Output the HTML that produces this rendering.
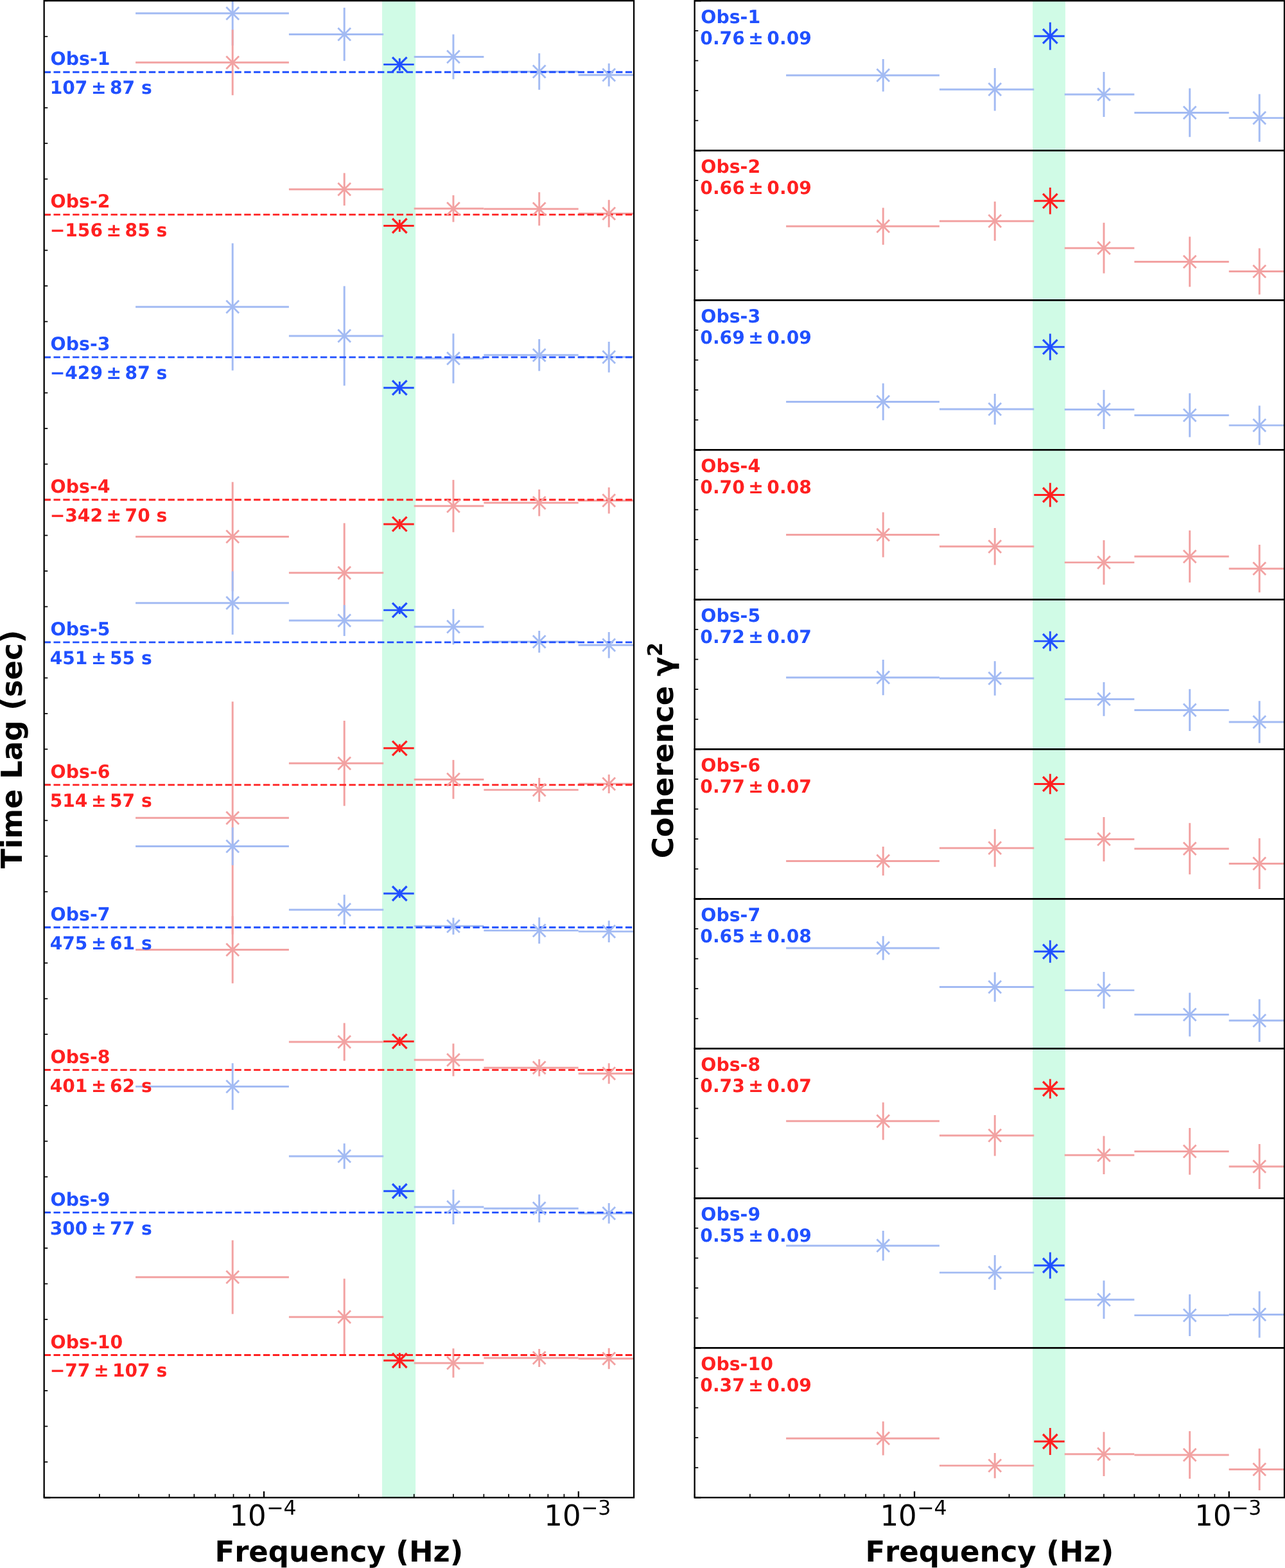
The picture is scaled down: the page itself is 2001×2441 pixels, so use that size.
<!DOCTYPE html>
<html lang="en"><head><meta charset="utf-8"><title>Time lag and coherence versus frequency</title>
<style>html,body{margin:0;padding:0;background:#fff}svg{display:block}</style></head>
<body>
<svg width="2001" height="2441" viewBox="0 0 2001 2441" font-family="'DejaVu Sans','Liberation Sans',sans-serif" style="font-kerning:none;font-variant-ligatures:none;text-rendering:geometricPrecision">
<rect width="2001" height="2441" fill="#fff"/>
<defs><clipPath id="cl"><rect x="68.65" y="1.2" width="918.45" height="2330.2"/></clipPath>
<clipPath id="cr0"><rect x="1081.65" y="1.25" width="918.4" height="233.01"/></clipPath>
<clipPath id="cr1"><rect x="1081.65" y="234.26" width="918.4" height="233.01"/></clipPath>
<clipPath id="cr2"><rect x="1081.65" y="467.27" width="918.4" height="233.01"/></clipPath>
<clipPath id="cr3"><rect x="1081.65" y="700.28" width="918.4" height="233.01"/></clipPath>
<clipPath id="cr4"><rect x="1081.65" y="933.29" width="918.4" height="233.01"/></clipPath>
<clipPath id="cr5"><rect x="1081.65" y="1166.3" width="918.4" height="233.01"/></clipPath>
<clipPath id="cr6"><rect x="1081.65" y="1399.31" width="918.4" height="233.01"/></clipPath>
<clipPath id="cr7"><rect x="1081.65" y="1632.32" width="918.4" height="233.01"/></clipPath>
<clipPath id="cr8"><rect x="1081.65" y="1865.33" width="918.4" height="233.01"/></clipPath>
<clipPath id="cr9"><rect x="1081.65" y="2098.34" width="918.4" height="233.01"/></clipPath>
</defs>
<g id="lag-panel">
<rect x="595.05" y="1.2" width="52.05" height="2330.2" fill="#d0fbe6"/>
<line x1="68.65" y1="1.3" x2="74.25" y2="1.3" stroke="#000" stroke-width="1.7"/>
<line x1="68.65" y1="56.78" x2="74.25" y2="56.78" stroke="#000" stroke-width="1.7"/>
<line x1="68.65" y1="112.26" x2="78.45" y2="112.26" stroke="#000" stroke-width="2.3"/>
<line x1="68.65" y1="167.74" x2="74.25" y2="167.74" stroke="#000" stroke-width="1.7"/>
<line x1="68.65" y1="223.21" x2="74.25" y2="223.21" stroke="#000" stroke-width="1.7"/>
<line x1="68.65" y1="278.69" x2="74.25" y2="278.69" stroke="#000" stroke-width="1.7"/>
<line x1="68.65" y1="334.17" x2="78.45" y2="334.17" stroke="#000" stroke-width="2.3"/>
<line x1="68.65" y1="389.65" x2="74.25" y2="389.65" stroke="#000" stroke-width="1.7"/>
<line x1="68.65" y1="445.13" x2="74.25" y2="445.13" stroke="#000" stroke-width="1.7"/>
<line x1="68.65" y1="500.61" x2="74.25" y2="500.61" stroke="#000" stroke-width="1.7"/>
<line x1="68.65" y1="556.09" x2="78.45" y2="556.09" stroke="#000" stroke-width="2.3"/>
<line x1="68.65" y1="611.56" x2="74.25" y2="611.56" stroke="#000" stroke-width="1.7"/>
<line x1="68.65" y1="667.04" x2="74.25" y2="667.04" stroke="#000" stroke-width="1.7"/>
<line x1="68.65" y1="722.52" x2="74.25" y2="722.52" stroke="#000" stroke-width="1.7"/>
<line x1="68.65" y1="778" x2="78.45" y2="778" stroke="#000" stroke-width="2.3"/>
<line x1="68.65" y1="833.48" x2="74.25" y2="833.48" stroke="#000" stroke-width="1.7"/>
<line x1="68.65" y1="888.96" x2="74.25" y2="888.96" stroke="#000" stroke-width="1.7"/>
<line x1="68.65" y1="944.44" x2="74.25" y2="944.44" stroke="#000" stroke-width="1.7"/>
<line x1="68.65" y1="999.91" x2="78.45" y2="999.91" stroke="#000" stroke-width="2.3"/>
<line x1="68.65" y1="1055.39" x2="74.25" y2="1055.39" stroke="#000" stroke-width="1.7"/>
<line x1="68.65" y1="1110.87" x2="74.25" y2="1110.87" stroke="#000" stroke-width="1.7"/>
<line x1="68.65" y1="1166.35" x2="74.25" y2="1166.35" stroke="#000" stroke-width="1.7"/>
<line x1="68.65" y1="1221.83" x2="78.45" y2="1221.83" stroke="#000" stroke-width="2.3"/>
<line x1="68.65" y1="1277.31" x2="74.25" y2="1277.31" stroke="#000" stroke-width="1.7"/>
<line x1="68.65" y1="1332.79" x2="74.25" y2="1332.79" stroke="#000" stroke-width="1.7"/>
<line x1="68.65" y1="1388.26" x2="74.25" y2="1388.26" stroke="#000" stroke-width="1.7"/>
<line x1="68.65" y1="1443.74" x2="78.45" y2="1443.74" stroke="#000" stroke-width="2.3"/>
<line x1="68.65" y1="1499.22" x2="74.25" y2="1499.22" stroke="#000" stroke-width="1.7"/>
<line x1="68.65" y1="1554.7" x2="74.25" y2="1554.7" stroke="#000" stroke-width="1.7"/>
<line x1="68.65" y1="1610.18" x2="74.25" y2="1610.18" stroke="#000" stroke-width="1.7"/>
<line x1="68.65" y1="1665.66" x2="78.45" y2="1665.66" stroke="#000" stroke-width="2.3"/>
<line x1="68.65" y1="1721.14" x2="74.25" y2="1721.14" stroke="#000" stroke-width="1.7"/>
<line x1="68.65" y1="1776.61" x2="74.25" y2="1776.61" stroke="#000" stroke-width="1.7"/>
<line x1="68.65" y1="1832.09" x2="74.25" y2="1832.09" stroke="#000" stroke-width="1.7"/>
<line x1="68.65" y1="1887.57" x2="78.45" y2="1887.57" stroke="#000" stroke-width="2.3"/>
<line x1="68.65" y1="1943.05" x2="74.25" y2="1943.05" stroke="#000" stroke-width="1.7"/>
<line x1="68.65" y1="1998.53" x2="74.25" y2="1998.53" stroke="#000" stroke-width="1.7"/>
<line x1="68.65" y1="2054.01" x2="74.25" y2="2054.01" stroke="#000" stroke-width="1.7"/>
<line x1="68.65" y1="2109.49" x2="78.45" y2="2109.49" stroke="#000" stroke-width="2.3"/>
<line x1="68.65" y1="2164.96" x2="74.25" y2="2164.96" stroke="#000" stroke-width="1.7"/>
<line x1="68.65" y1="2220.44" x2="74.25" y2="2220.44" stroke="#000" stroke-width="1.7"/>
<line x1="68.65" y1="2275.92" x2="74.25" y2="2275.92" stroke="#000" stroke-width="1.7"/>
<line x1="68.65" y1="2331.4" x2="78.45" y2="2331.4" stroke="#000" stroke-width="2.3"/>
<line x1="68.65" y1="2331.4" x2="68.65" y2="2325.8" stroke="#000" stroke-width="1.7"/>
<line x1="154.9" y1="2331.4" x2="154.9" y2="2325.8" stroke="#000" stroke-width="1.7"/>
<line x1="216.1" y1="2331.4" x2="216.1" y2="2325.8" stroke="#000" stroke-width="1.7"/>
<line x1="263.57" y1="2331.4" x2="263.57" y2="2325.8" stroke="#000" stroke-width="1.7"/>
<line x1="302.36" y1="2331.4" x2="302.36" y2="2325.8" stroke="#000" stroke-width="1.7"/>
<line x1="335.15" y1="2331.4" x2="335.15" y2="2325.8" stroke="#000" stroke-width="1.7"/>
<line x1="363.55" y1="2331.4" x2="363.55" y2="2325.8" stroke="#000" stroke-width="1.7"/>
<line x1="388.61" y1="2331.4" x2="388.61" y2="2325.8" stroke="#000" stroke-width="1.7"/>
<line x1="411.02" y1="2331.4" x2="411.02" y2="2321.6" stroke="#000" stroke-width="2.3"/>
<line x1="558.47" y1="2331.4" x2="558.47" y2="2325.8" stroke="#000" stroke-width="1.7"/>
<line x1="644.73" y1="2331.4" x2="644.73" y2="2325.8" stroke="#000" stroke-width="1.7"/>
<line x1="705.93" y1="2331.4" x2="705.93" y2="2325.8" stroke="#000" stroke-width="1.7"/>
<line x1="753.39" y1="2331.4" x2="753.39" y2="2325.8" stroke="#000" stroke-width="1.7"/>
<line x1="792.18" y1="2331.4" x2="792.18" y2="2325.8" stroke="#000" stroke-width="1.7"/>
<line x1="824.97" y1="2331.4" x2="824.97" y2="2325.8" stroke="#000" stroke-width="1.7"/>
<line x1="853.38" y1="2331.4" x2="853.38" y2="2325.8" stroke="#000" stroke-width="1.7"/>
<line x1="878.43" y1="2331.4" x2="878.43" y2="2325.8" stroke="#000" stroke-width="1.7"/>
<line x1="900.85" y1="2331.4" x2="900.85" y2="2321.6" stroke="#000" stroke-width="2.3"/>
<g clip-path="url(#cl)" stroke-linecap="butt">
<line x1="211.1" y1="20.8" x2="449.9" y2="20.8" stroke="#a3bbf3" stroke-width="2.95"/>
<line x1="362.2" y1="-29.2" x2="362.2" y2="70.8" stroke="#a3bbf3" stroke-width="2.95"/>
<line x1="449.9" y1="53.4" x2="597.2" y2="53.4" stroke="#a3bbf3" stroke-width="2.95"/>
<line x1="536.2" y1="12.1" x2="536.2" y2="94.7" stroke="#a3bbf3" stroke-width="2.95"/>
<line x1="644.7" y1="88.4" x2="753.4" y2="88.4" stroke="#a3bbf3" stroke-width="2.95"/>
<line x1="705.95" y1="53.6" x2="705.95" y2="123.2" stroke="#a3bbf3" stroke-width="2.95"/>
<line x1="753.4" y1="111.4" x2="900.7" y2="111.4" stroke="#a3bbf3" stroke-width="2.95"/>
<line x1="839.7" y1="83.1" x2="839.7" y2="139.7" stroke="#a3bbf3" stroke-width="2.95"/>
<line x1="900.7" y1="116.7" x2="987.1" y2="116.7" stroke="#a3bbf3" stroke-width="2.95"/>
<line x1="948.2" y1="98.8" x2="948.2" y2="134.6" stroke="#a3bbf3" stroke-width="2.95"/>
<line x1="597.2" y1="100.38" x2="644.7" y2="100.38" stroke="#2050ff" stroke-width="2.95"/>
<line x1="622.3" y1="90.73" x2="622.3" y2="110.04" stroke="#2050ff" stroke-width="2.95"/>
<line x1="68.65" y1="112.26" x2="987.1" y2="112.26" stroke="#2050ff" stroke-width="2.81" stroke-dasharray="10.36 4.48"/>
<line x1="211.1" y1="97.3" x2="449.9" y2="97.3" stroke="#f2a2a2" stroke-width="2.95"/>
<line x1="362.2" y1="46.3" x2="362.2" y2="148.3" stroke="#f2a2a2" stroke-width="2.95"/>
<line x1="449.9" y1="294.7" x2="597.2" y2="294.7" stroke="#f2a2a2" stroke-width="2.95"/>
<line x1="536.2" y1="269.4" x2="536.2" y2="320" stroke="#f2a2a2" stroke-width="2.95"/>
<line x1="644.7" y1="324.8" x2="753.4" y2="324.8" stroke="#f2a2a2" stroke-width="2.95"/>
<line x1="705.95" y1="304" x2="705.95" y2="345.6" stroke="#f2a2a2" stroke-width="2.95"/>
<line x1="753.4" y1="325.2" x2="900.7" y2="325.2" stroke="#f2a2a2" stroke-width="2.95"/>
<line x1="839.7" y1="299.2" x2="839.7" y2="351.2" stroke="#f2a2a2" stroke-width="2.95"/>
<line x1="900.7" y1="332.5" x2="987.1" y2="332.5" stroke="#f2a2a2" stroke-width="2.95"/>
<line x1="948.2" y1="311.3" x2="948.2" y2="353.7" stroke="#f2a2a2" stroke-width="2.95"/>
<line x1="597.2" y1="351.48" x2="644.7" y2="351.48" stroke="#ff2020" stroke-width="2.95"/>
<line x1="622.3" y1="342.05" x2="622.3" y2="360.91" stroke="#ff2020" stroke-width="2.95"/>
<line x1="68.65" y1="334.17" x2="987.1" y2="334.17" stroke="#ff2020" stroke-width="2.81" stroke-dasharray="10.36 4.48"/>
<line x1="211.1" y1="477.7" x2="449.9" y2="477.7" stroke="#a3bbf3" stroke-width="2.95"/>
<line x1="362.2" y1="378.7" x2="362.2" y2="576.7" stroke="#a3bbf3" stroke-width="2.95"/>
<line x1="449.9" y1="522.9" x2="597.2" y2="522.9" stroke="#a3bbf3" stroke-width="2.95"/>
<line x1="536.2" y1="445.4" x2="536.2" y2="600.4" stroke="#a3bbf3" stroke-width="2.95"/>
<line x1="644.7" y1="558" x2="753.4" y2="558" stroke="#a3bbf3" stroke-width="2.95"/>
<line x1="705.95" y1="519.3" x2="705.95" y2="596.7" stroke="#a3bbf3" stroke-width="2.95"/>
<line x1="753.4" y1="552.8" x2="900.7" y2="552.8" stroke="#a3bbf3" stroke-width="2.95"/>
<line x1="839.7" y1="528.1" x2="839.7" y2="577.5" stroke="#a3bbf3" stroke-width="2.95"/>
<line x1="900.7" y1="555.8" x2="987.1" y2="555.8" stroke="#a3bbf3" stroke-width="2.95"/>
<line x1="948.2" y1="531.9" x2="948.2" y2="579.7" stroke="#a3bbf3" stroke-width="2.95"/>
<line x1="597.2" y1="603.69" x2="644.7" y2="603.69" stroke="#2050ff" stroke-width="2.95"/>
<line x1="622.3" y1="594.03" x2="622.3" y2="613.34" stroke="#2050ff" stroke-width="2.95"/>
<line x1="68.65" y1="556.09" x2="987.1" y2="556.09" stroke="#2050ff" stroke-width="2.81" stroke-dasharray="10.36 4.48"/>
<line x1="211.1" y1="835.4" x2="449.9" y2="835.4" stroke="#f2a2a2" stroke-width="2.95"/>
<line x1="362.2" y1="750.4" x2="362.2" y2="920.4" stroke="#f2a2a2" stroke-width="2.95"/>
<line x1="449.9" y1="891.8" x2="597.2" y2="891.8" stroke="#f2a2a2" stroke-width="2.95"/>
<line x1="536.2" y1="814.4" x2="536.2" y2="969.2" stroke="#f2a2a2" stroke-width="2.95"/>
<line x1="644.7" y1="787.8" x2="753.4" y2="787.8" stroke="#f2a2a2" stroke-width="2.95"/>
<line x1="705.95" y1="747.1" x2="705.95" y2="828.5" stroke="#f2a2a2" stroke-width="2.95"/>
<line x1="753.4" y1="782.8" x2="900.7" y2="782.8" stroke="#f2a2a2" stroke-width="2.95"/>
<line x1="839.7" y1="762.1" x2="839.7" y2="803.5" stroke="#f2a2a2" stroke-width="2.95"/>
<line x1="900.7" y1="779.2" x2="987.1" y2="779.2" stroke="#f2a2a2" stroke-width="2.95"/>
<line x1="948.2" y1="758.8" x2="948.2" y2="799.6" stroke="#f2a2a2" stroke-width="2.95"/>
<line x1="597.2" y1="815.95" x2="644.7" y2="815.95" stroke="#ff2020" stroke-width="2.95"/>
<line x1="622.3" y1="808.18" x2="622.3" y2="823.71" stroke="#ff2020" stroke-width="2.95"/>
<line x1="68.65" y1="778" x2="987.1" y2="778" stroke="#ff2020" stroke-width="2.81" stroke-dasharray="10.36 4.48"/>
<line x1="211.1" y1="938.7" x2="449.9" y2="938.7" stroke="#a3bbf3" stroke-width="2.95"/>
<line x1="362.2" y1="889.5" x2="362.2" y2="987.9" stroke="#a3bbf3" stroke-width="2.95"/>
<line x1="449.9" y1="966" x2="597.2" y2="966" stroke="#a3bbf3" stroke-width="2.95"/>
<line x1="536.2" y1="941.9" x2="536.2" y2="990.1" stroke="#a3bbf3" stroke-width="2.95"/>
<line x1="644.7" y1="975.7" x2="753.4" y2="975.7" stroke="#a3bbf3" stroke-width="2.95"/>
<line x1="705.95" y1="948" x2="705.95" y2="1003.4" stroke="#a3bbf3" stroke-width="2.95"/>
<line x1="753.4" y1="999" x2="900.7" y2="999" stroke="#a3bbf3" stroke-width="2.95"/>
<line x1="839.7" y1="982" x2="839.7" y2="1016" stroke="#a3bbf3" stroke-width="2.95"/>
<line x1="900.7" y1="1004.2" x2="987.1" y2="1004.2" stroke="#a3bbf3" stroke-width="2.95"/>
<line x1="948.2" y1="984" x2="948.2" y2="1024.4" stroke="#a3bbf3" stroke-width="2.95"/>
<line x1="597.2" y1="949.87" x2="644.7" y2="949.87" stroke="#2050ff" stroke-width="2.95"/>
<line x1="622.3" y1="943.77" x2="622.3" y2="955.98" stroke="#2050ff" stroke-width="2.95"/>
<line x1="68.65" y1="999.91" x2="987.1" y2="999.91" stroke="#2050ff" stroke-width="2.81" stroke-dasharray="10.36 4.48"/>
<line x1="211.1" y1="1273.3" x2="449.9" y2="1273.3" stroke="#f2a2a2" stroke-width="2.95"/>
<line x1="362.2" y1="1092.2" x2="362.2" y2="1454.4" stroke="#f2a2a2" stroke-width="2.95"/>
<line x1="449.9" y1="1188.3" x2="597.2" y2="1188.3" stroke="#f2a2a2" stroke-width="2.95"/>
<line x1="536.2" y1="1122" x2="536.2" y2="1254.6" stroke="#f2a2a2" stroke-width="2.95"/>
<line x1="644.7" y1="1213.4" x2="753.4" y2="1213.4" stroke="#f2a2a2" stroke-width="2.95"/>
<line x1="705.95" y1="1183.1" x2="705.95" y2="1243.7" stroke="#f2a2a2" stroke-width="2.95"/>
<line x1="753.4" y1="1229.6" x2="900.7" y2="1229.6" stroke="#f2a2a2" stroke-width="2.95"/>
<line x1="839.7" y1="1210.9" x2="839.7" y2="1248.3" stroke="#f2a2a2" stroke-width="2.95"/>
<line x1="900.7" y1="1220.3" x2="987.1" y2="1220.3" stroke="#f2a2a2" stroke-width="2.95"/>
<line x1="948.2" y1="1205.7" x2="948.2" y2="1234.9" stroke="#f2a2a2" stroke-width="2.95"/>
<line x1="597.2" y1="1164.8" x2="644.7" y2="1164.8" stroke="#ff2020" stroke-width="2.95"/>
<line x1="622.3" y1="1158.47" x2="622.3" y2="1171.12" stroke="#ff2020" stroke-width="2.95"/>
<line x1="68.65" y1="1221.83" x2="987.1" y2="1221.83" stroke="#ff2020" stroke-width="2.81" stroke-dasharray="10.36 4.48"/>
<line x1="211.1" y1="1317.5" x2="449.9" y2="1317.5" stroke="#a3bbf3" stroke-width="2.95"/>
<line x1="362.2" y1="1288.1" x2="362.2" y2="1346.9" stroke="#a3bbf3" stroke-width="2.95"/>
<line x1="449.9" y1="1416.2" x2="597.2" y2="1416.2" stroke="#a3bbf3" stroke-width="2.95"/>
<line x1="536.2" y1="1392.8" x2="536.2" y2="1439.6" stroke="#a3bbf3" stroke-width="2.95"/>
<line x1="644.7" y1="1441.8" x2="753.4" y2="1441.8" stroke="#a3bbf3" stroke-width="2.95"/>
<line x1="705.95" y1="1428.7" x2="705.95" y2="1454.9" stroke="#a3bbf3" stroke-width="2.95"/>
<line x1="753.4" y1="1448.6" x2="900.7" y2="1448.6" stroke="#a3bbf3" stroke-width="2.95"/>
<line x1="839.7" y1="1428.2" x2="839.7" y2="1469" stroke="#a3bbf3" stroke-width="2.95"/>
<line x1="900.7" y1="1450.1" x2="987.1" y2="1450.1" stroke="#a3bbf3" stroke-width="2.95"/>
<line x1="948.2" y1="1433.3" x2="948.2" y2="1466.9" stroke="#a3bbf3" stroke-width="2.95"/>
<line x1="597.2" y1="1391.04" x2="644.7" y2="1391.04" stroke="#2050ff" stroke-width="2.95"/>
<line x1="622.3" y1="1384.27" x2="622.3" y2="1397.81" stroke="#2050ff" stroke-width="2.95"/>
<line x1="68.65" y1="1443.74" x2="987.1" y2="1443.74" stroke="#2050ff" stroke-width="2.81" stroke-dasharray="10.36 4.48"/>
<line x1="211.1" y1="1478.5" x2="449.9" y2="1478.5" stroke="#f2a2a2" stroke-width="2.95"/>
<line x1="362.2" y1="1426.2" x2="362.2" y2="1530.8" stroke="#f2a2a2" stroke-width="2.95"/>
<line x1="449.9" y1="1622" x2="597.2" y2="1622" stroke="#f2a2a2" stroke-width="2.95"/>
<line x1="536.2" y1="1592.6" x2="536.2" y2="1651.4" stroke="#f2a2a2" stroke-width="2.95"/>
<line x1="644.7" y1="1650" x2="753.4" y2="1650" stroke="#f2a2a2" stroke-width="2.95"/>
<line x1="705.95" y1="1624.6" x2="705.95" y2="1675.4" stroke="#f2a2a2" stroke-width="2.95"/>
<line x1="753.4" y1="1662.2" x2="900.7" y2="1662.2" stroke="#f2a2a2" stroke-width="2.95"/>
<line x1="839.7" y1="1648.9" x2="839.7" y2="1675.5" stroke="#f2a2a2" stroke-width="2.95"/>
<line x1="900.7" y1="1671.2" x2="987.1" y2="1671.2" stroke="#f2a2a2" stroke-width="2.95"/>
<line x1="948.2" y1="1655.2" x2="948.2" y2="1687.2" stroke="#f2a2a2" stroke-width="2.95"/>
<line x1="597.2" y1="1621.16" x2="644.7" y2="1621.16" stroke="#ff2020" stroke-width="2.95"/>
<line x1="622.3" y1="1614.28" x2="622.3" y2="1628.04" stroke="#ff2020" stroke-width="2.95"/>
<line x1="68.65" y1="1665.66" x2="987.1" y2="1665.66" stroke="#ff2020" stroke-width="2.81" stroke-dasharray="10.36 4.48"/>
<line x1="211.1" y1="1691.5" x2="449.9" y2="1691.5" stroke="#a3bbf3" stroke-width="2.95"/>
<line x1="362.2" y1="1655.2" x2="362.2" y2="1727.8" stroke="#a3bbf3" stroke-width="2.95"/>
<line x1="449.9" y1="1799.9" x2="597.2" y2="1799.9" stroke="#a3bbf3" stroke-width="2.95"/>
<line x1="536.2" y1="1780.1" x2="536.2" y2="1819.7" stroke="#a3bbf3" stroke-width="2.95"/>
<line x1="644.7" y1="1879" x2="753.4" y2="1879" stroke="#a3bbf3" stroke-width="2.95"/>
<line x1="705.95" y1="1852" x2="705.95" y2="1906" stroke="#a3bbf3" stroke-width="2.95"/>
<line x1="753.4" y1="1881.2" x2="900.7" y2="1881.2" stroke="#a3bbf3" stroke-width="2.95"/>
<line x1="839.7" y1="1859.4" x2="839.7" y2="1903" stroke="#a3bbf3" stroke-width="2.95"/>
<line x1="900.7" y1="1888.9" x2="987.1" y2="1888.9" stroke="#a3bbf3" stroke-width="2.95"/>
<line x1="948.2" y1="1873" x2="948.2" y2="1904.8" stroke="#a3bbf3" stroke-width="2.95"/>
<line x1="597.2" y1="1854.28" x2="644.7" y2="1854.28" stroke="#2050ff" stroke-width="2.95"/>
<line x1="622.3" y1="1845.74" x2="622.3" y2="1862.83" stroke="#2050ff" stroke-width="2.95"/>
<line x1="68.65" y1="1887.57" x2="987.1" y2="1887.57" stroke="#2050ff" stroke-width="2.81" stroke-dasharray="10.36 4.48"/>
<line x1="211.1" y1="1988.2" x2="449.9" y2="1988.2" stroke="#f2a2a2" stroke-width="2.95"/>
<line x1="362.2" y1="1930.8" x2="362.2" y2="2045.6" stroke="#f2a2a2" stroke-width="2.95"/>
<line x1="449.9" y1="2050.2" x2="597.2" y2="2050.2" stroke="#f2a2a2" stroke-width="2.95"/>
<line x1="536.2" y1="1990.6" x2="536.2" y2="2109.8" stroke="#f2a2a2" stroke-width="2.95"/>
<line x1="644.7" y1="2121.9" x2="753.4" y2="2121.9" stroke="#f2a2a2" stroke-width="2.95"/>
<line x1="705.95" y1="2099.2" x2="705.95" y2="2144.6" stroke="#f2a2a2" stroke-width="2.95"/>
<line x1="753.4" y1="2113.9" x2="900.7" y2="2113.9" stroke="#f2a2a2" stroke-width="2.95"/>
<line x1="839.7" y1="2099.9" x2="839.7" y2="2127.9" stroke="#f2a2a2" stroke-width="2.95"/>
<line x1="900.7" y1="2115" x2="987.1" y2="2115" stroke="#f2a2a2" stroke-width="2.95"/>
<line x1="948.2" y1="2098.8" x2="948.2" y2="2131.2" stroke="#f2a2a2" stroke-width="2.95"/>
<line x1="597.2" y1="2118.03" x2="644.7" y2="2118.03" stroke="#ff2020" stroke-width="2.95"/>
<line x1="622.3" y1="2106.16" x2="622.3" y2="2129.9" stroke="#ff2020" stroke-width="2.95"/>
<line x1="68.65" y1="2109.49" x2="987.1" y2="2109.49" stroke="#ff2020" stroke-width="2.81" stroke-dasharray="10.36 4.48"/>
<path d="M352.35 10.95L372.05 30.65M352.35 30.65L372.05 10.95" stroke="#a3bbf3" stroke-width="2.81" fill="none"/>
<path d="M526.35 43.55L546.05 63.25M526.35 63.25L546.05 43.55" stroke="#a3bbf3" stroke-width="2.81" fill="none"/>
<path d="M696.1 78.55L715.8 98.25M696.1 98.25L715.8 78.55" stroke="#a3bbf3" stroke-width="2.81" fill="none"/>
<path d="M829.85 101.55L849.55 121.25M829.85 121.25L849.55 101.55" stroke="#a3bbf3" stroke-width="2.81" fill="none"/>
<path d="M938.35 106.85L958.05 126.55M938.35 126.55L958.05 106.85" stroke="#a3bbf3" stroke-width="2.81" fill="none"/>
<path d="M611.05 89.13L633.55 111.63M611.05 111.63L633.55 89.13" stroke="#2050ff" stroke-width="3.3" fill="none"/>
<path d="M352.35 87.45L372.05 107.15M352.35 107.15L372.05 87.45" stroke="#f2a2a2" stroke-width="2.81" fill="none"/>
<path d="M526.35 284.85L546.05 304.55M526.35 304.55L546.05 284.85" stroke="#f2a2a2" stroke-width="2.81" fill="none"/>
<path d="M696.1 314.95L715.8 334.65M696.1 334.65L715.8 314.95" stroke="#f2a2a2" stroke-width="2.81" fill="none"/>
<path d="M829.85 315.35L849.55 335.05M829.85 335.05L849.55 315.35" stroke="#f2a2a2" stroke-width="2.81" fill="none"/>
<path d="M938.35 322.65L958.05 342.35M938.35 342.35L958.05 322.65" stroke="#f2a2a2" stroke-width="2.81" fill="none"/>
<path d="M611.05 340.23L633.55 362.73M611.05 362.73L633.55 340.23" stroke="#ff2020" stroke-width="3.3" fill="none"/>
<path d="M352.35 467.85L372.05 487.55M352.35 487.55L372.05 467.85" stroke="#a3bbf3" stroke-width="2.81" fill="none"/>
<path d="M526.35 513.05L546.05 532.75M526.35 532.75L546.05 513.05" stroke="#a3bbf3" stroke-width="2.81" fill="none"/>
<path d="M696.1 548.15L715.8 567.85M696.1 567.85L715.8 548.15" stroke="#a3bbf3" stroke-width="2.81" fill="none"/>
<path d="M829.85 542.95L849.55 562.65M829.85 562.65L849.55 542.95" stroke="#a3bbf3" stroke-width="2.81" fill="none"/>
<path d="M938.35 545.95L958.05 565.65M938.35 565.65L958.05 545.95" stroke="#a3bbf3" stroke-width="2.81" fill="none"/>
<path d="M611.05 592.44L633.55 614.94M611.05 614.94L633.55 592.44" stroke="#2050ff" stroke-width="3.3" fill="none"/>
<path d="M352.35 825.55L372.05 845.25M352.35 845.25L372.05 825.55" stroke="#f2a2a2" stroke-width="2.81" fill="none"/>
<path d="M526.35 881.95L546.05 901.65M526.35 901.65L546.05 881.95" stroke="#f2a2a2" stroke-width="2.81" fill="none"/>
<path d="M696.1 777.95L715.8 797.65M696.1 797.65L715.8 777.95" stroke="#f2a2a2" stroke-width="2.81" fill="none"/>
<path d="M829.85 772.95L849.55 792.65M829.85 792.65L849.55 772.95" stroke="#f2a2a2" stroke-width="2.81" fill="none"/>
<path d="M938.35 769.35L958.05 789.05M938.35 789.05L958.05 769.35" stroke="#f2a2a2" stroke-width="2.81" fill="none"/>
<path d="M611.05 804.7L633.55 827.2M611.05 827.2L633.55 804.7" stroke="#ff2020" stroke-width="3.3" fill="none"/>
<path d="M352.35 928.85L372.05 948.55M352.35 948.55L372.05 928.85" stroke="#a3bbf3" stroke-width="2.81" fill="none"/>
<path d="M526.35 956.15L546.05 975.85M526.35 975.85L546.05 956.15" stroke="#a3bbf3" stroke-width="2.81" fill="none"/>
<path d="M696.1 965.85L715.8 985.55M696.1 985.55L715.8 965.85" stroke="#a3bbf3" stroke-width="2.81" fill="none"/>
<path d="M829.85 989.15L849.55 1008.85M829.85 1008.85L849.55 989.15" stroke="#a3bbf3" stroke-width="2.81" fill="none"/>
<path d="M938.35 994.35L958.05 1014.05M938.35 1014.05L958.05 994.35" stroke="#a3bbf3" stroke-width="2.81" fill="none"/>
<path d="M611.05 938.62L633.55 961.12M611.05 961.12L633.55 938.62" stroke="#2050ff" stroke-width="3.3" fill="none"/>
<path d="M352.35 1263.45L372.05 1283.15M352.35 1283.15L372.05 1263.45" stroke="#f2a2a2" stroke-width="2.81" fill="none"/>
<path d="M526.35 1178.45L546.05 1198.15M526.35 1198.15L546.05 1178.45" stroke="#f2a2a2" stroke-width="2.81" fill="none"/>
<path d="M696.1 1203.55L715.8 1223.25M696.1 1223.25L715.8 1203.55" stroke="#f2a2a2" stroke-width="2.81" fill="none"/>
<path d="M829.85 1219.75L849.55 1239.45M829.85 1239.45L849.55 1219.75" stroke="#f2a2a2" stroke-width="2.81" fill="none"/>
<path d="M938.35 1210.45L958.05 1230.15M938.35 1230.15L958.05 1210.45" stroke="#f2a2a2" stroke-width="2.81" fill="none"/>
<path d="M611.05 1153.55L633.55 1176.05M611.05 1176.05L633.55 1153.55" stroke="#ff2020" stroke-width="3.3" fill="none"/>
<path d="M352.35 1307.65L372.05 1327.35M352.35 1327.35L372.05 1307.65" stroke="#a3bbf3" stroke-width="2.81" fill="none"/>
<path d="M526.35 1406.35L546.05 1426.05M526.35 1426.05L546.05 1406.35" stroke="#a3bbf3" stroke-width="2.81" fill="none"/>
<path d="M696.1 1431.95L715.8 1451.65M696.1 1451.65L715.8 1431.95" stroke="#a3bbf3" stroke-width="2.81" fill="none"/>
<path d="M829.85 1438.75L849.55 1458.45M829.85 1458.45L849.55 1438.75" stroke="#a3bbf3" stroke-width="2.81" fill="none"/>
<path d="M938.35 1440.25L958.05 1459.95M938.35 1459.95L958.05 1440.25" stroke="#a3bbf3" stroke-width="2.81" fill="none"/>
<path d="M611.05 1379.79L633.55 1402.29M611.05 1402.29L633.55 1379.79" stroke="#2050ff" stroke-width="3.3" fill="none"/>
<path d="M352.35 1468.65L372.05 1488.35M352.35 1488.35L372.05 1468.65" stroke="#f2a2a2" stroke-width="2.81" fill="none"/>
<path d="M526.35 1612.15L546.05 1631.85M526.35 1631.85L546.05 1612.15" stroke="#f2a2a2" stroke-width="2.81" fill="none"/>
<path d="M696.1 1640.15L715.8 1659.85M696.1 1659.85L715.8 1640.15" stroke="#f2a2a2" stroke-width="2.81" fill="none"/>
<path d="M829.85 1652.35L849.55 1672.05M829.85 1672.05L849.55 1652.35" stroke="#f2a2a2" stroke-width="2.81" fill="none"/>
<path d="M938.35 1661.35L958.05 1681.05M938.35 1681.05L958.05 1661.35" stroke="#f2a2a2" stroke-width="2.81" fill="none"/>
<path d="M611.05 1609.91L633.55 1632.41M611.05 1632.41L633.55 1609.91" stroke="#ff2020" stroke-width="3.3" fill="none"/>
<path d="M352.35 1681.65L372.05 1701.35M352.35 1701.35L372.05 1681.65" stroke="#a3bbf3" stroke-width="2.81" fill="none"/>
<path d="M526.35 1790.05L546.05 1809.75M526.35 1809.75L546.05 1790.05" stroke="#a3bbf3" stroke-width="2.81" fill="none"/>
<path d="M696.1 1869.15L715.8 1888.85M696.1 1888.85L715.8 1869.15" stroke="#a3bbf3" stroke-width="2.81" fill="none"/>
<path d="M829.85 1871.35L849.55 1891.05M829.85 1891.05L849.55 1871.35" stroke="#a3bbf3" stroke-width="2.81" fill="none"/>
<path d="M938.35 1879.05L958.05 1898.75M938.35 1898.75L958.05 1879.05" stroke="#a3bbf3" stroke-width="2.81" fill="none"/>
<path d="M611.05 1843.03L633.55 1865.53M611.05 1865.53L633.55 1843.03" stroke="#2050ff" stroke-width="3.3" fill="none"/>
<path d="M352.35 1978.35L372.05 1998.05M352.35 1998.05L372.05 1978.35" stroke="#f2a2a2" stroke-width="2.81" fill="none"/>
<path d="M526.35 2040.35L546.05 2060.05M526.35 2060.05L546.05 2040.35" stroke="#f2a2a2" stroke-width="2.81" fill="none"/>
<path d="M696.1 2112.05L715.8 2131.75M696.1 2131.75L715.8 2112.05" stroke="#f2a2a2" stroke-width="2.81" fill="none"/>
<path d="M829.85 2104.05L849.55 2123.75M829.85 2123.75L849.55 2104.05" stroke="#f2a2a2" stroke-width="2.81" fill="none"/>
<path d="M938.35 2105.15L958.05 2124.85M938.35 2124.85L958.05 2105.15" stroke="#f2a2a2" stroke-width="2.81" fill="none"/>
<path d="M611.05 2106.78L633.55 2129.28M611.05 2129.28L633.55 2106.78" stroke="#ff2020" stroke-width="3.3" fill="none"/>
</g>
<text y="2374.6" font-size="45" fill="#000"><tspan x="357.45">10</tspan><tspan x="415.14" dy="-16.34" font-size="31.5">−4</tspan></text>
<text y="2374.6" font-size="45" fill="#000"><tspan x="847.27">10</tspan><tspan x="904.96" dy="-16.34" font-size="31.5">−3</tspan></text>
<rect x="68.65" y="1.2" width="918.45" height="2330.2" fill="none" stroke="#000" stroke-width="2.3"/>
<text x="78.55" y="101.46" font-size="28.4" font-weight="bold" fill="#2050ff">Obs-1</text>
<text y="146.26" font-size="28.15" fill="#2050ff"><tspan x="77.65" font-weight="bold">107</tspan><tspan x="141.89" font-weight="bold">±</tspan><tspan x="170.96" font-weight="bold">87</tspan><tspan x="219.94" font-weight="bold">s</tspan></text>
<text x="78.55" y="323.37" font-size="28.4" font-weight="bold" fill="#ff2020">Obs-2</text>
<text y="368.17" font-size="28.15" fill="#ff2020"><tspan x="77.65" font-weight="bold">−</tspan><tspan x="101.24" font-weight="bold">156</tspan><tspan x="165.48" font-weight="bold">±</tspan><tspan x="194.55" font-weight="bold">85</tspan><tspan x="243.52" font-weight="bold">s</tspan></text>
<text x="78.55" y="545.29" font-size="28.4" font-weight="bold" fill="#2050ff">Obs-3</text>
<text y="590.09" font-size="28.15" fill="#2050ff"><tspan x="77.65" font-weight="bold">−</tspan><tspan x="101.24" font-weight="bold">429</tspan><tspan x="165.48" font-weight="bold">±</tspan><tspan x="194.55" font-weight="bold">87</tspan><tspan x="243.52" font-weight="bold">s</tspan></text>
<text x="78.55" y="767.2" font-size="28.4" font-weight="bold" fill="#ff2020">Obs-4</text>
<text y="812" font-size="28.15" fill="#ff2020"><tspan x="77.65" font-weight="bold">−</tspan><tspan x="101.24" font-weight="bold">342</tspan><tspan x="165.48" font-weight="bold">±</tspan><tspan x="194.55" font-weight="bold">70</tspan><tspan x="243.52" font-weight="bold">s</tspan></text>
<text x="78.55" y="989.11" font-size="28.4" font-weight="bold" fill="#2050ff">Obs-5</text>
<text y="1033.91" font-size="28.15" fill="#2050ff"><tspan x="77.65" font-weight="bold">451</tspan><tspan x="141.89" font-weight="bold">±</tspan><tspan x="170.96" font-weight="bold">55</tspan><tspan x="219.94" font-weight="bold">s</tspan></text>
<text x="78.55" y="1211.03" font-size="28.4" font-weight="bold" fill="#ff2020">Obs-6</text>
<text y="1255.83" font-size="28.15" fill="#ff2020"><tspan x="77.65" font-weight="bold">514</tspan><tspan x="141.89" font-weight="bold">±</tspan><tspan x="170.96" font-weight="bold">57</tspan><tspan x="219.94" font-weight="bold">s</tspan></text>
<text x="78.55" y="1432.94" font-size="28.4" font-weight="bold" fill="#2050ff">Obs-7</text>
<text y="1477.74" font-size="28.15" fill="#2050ff"><tspan x="77.65" font-weight="bold">475</tspan><tspan x="141.89" font-weight="bold">±</tspan><tspan x="170.96" font-weight="bold">61</tspan><tspan x="219.94" font-weight="bold">s</tspan></text>
<text x="78.55" y="1654.86" font-size="28.4" font-weight="bold" fill="#ff2020">Obs-8</text>
<text y="1699.66" font-size="28.15" fill="#ff2020"><tspan x="77.65" font-weight="bold">401</tspan><tspan x="141.89" font-weight="bold">±</tspan><tspan x="170.96" font-weight="bold">62</tspan><tspan x="219.94" font-weight="bold">s</tspan></text>
<text x="78.55" y="1876.77" font-size="28.4" font-weight="bold" fill="#2050ff">Obs-9</text>
<text y="1921.57" font-size="28.15" fill="#2050ff"><tspan x="77.65" font-weight="bold">300</tspan><tspan x="141.89" font-weight="bold">±</tspan><tspan x="170.96" font-weight="bold">77</tspan><tspan x="219.94" font-weight="bold">s</tspan></text>
<text x="78.55" y="2098.69" font-size="28.4" font-weight="bold" fill="#ff2020">Obs-10</text>
<text y="2143.49" font-size="28.15" fill="#ff2020"><tspan x="77.65" font-weight="bold">−</tspan><tspan x="101.24" font-weight="bold">77</tspan><tspan x="145.89" font-weight="bold">±</tspan><tspan x="174.96" font-weight="bold">107</tspan><tspan x="243.52" font-weight="bold">s</tspan></text>
<text x="527.88" y="2431.4" font-size="45" font-weight="bold" text-anchor="middle" fill="#000">Frequency (Hz)</text>
<text transform="translate(34.4 1166.3) rotate(-90)" font-size="45" font-weight="bold" text-anchor="middle" fill="#000">Time Lag (sec)</text>
</g>
<g id="coherence-panel">
<rect x="1608.05" y="1.2" width="50.9" height="2330.2" fill="#d0fbe6"/>
<line x1="1081.65" y1="1.25" x2="1091.45" y2="1.25" stroke="#000" stroke-width="2.3"/>
<line x1="1081.65" y1="47.85" x2="1087.25" y2="47.85" stroke="#000" stroke-width="1.7"/>
<line x1="1081.65" y1="94.45" x2="1087.25" y2="94.45" stroke="#000" stroke-width="1.7"/>
<line x1="1081.65" y1="141.06" x2="1087.25" y2="141.06" stroke="#000" stroke-width="1.7"/>
<line x1="1081.65" y1="187.66" x2="1087.25" y2="187.66" stroke="#000" stroke-width="1.7"/>
<line x1="1081.65" y1="234.26" x2="1091.45" y2="234.26" stroke="#000" stroke-width="2.3"/>
<line x1="1081.65" y1="234.26" x2="1091.45" y2="234.26" stroke="#000" stroke-width="2.3"/>
<line x1="1081.65" y1="280.86" x2="1087.25" y2="280.86" stroke="#000" stroke-width="1.7"/>
<line x1="1081.65" y1="327.46" x2="1087.25" y2="327.46" stroke="#000" stroke-width="1.7"/>
<line x1="1081.65" y1="374.07" x2="1087.25" y2="374.07" stroke="#000" stroke-width="1.7"/>
<line x1="1081.65" y1="420.67" x2="1087.25" y2="420.67" stroke="#000" stroke-width="1.7"/>
<line x1="1081.65" y1="467.27" x2="1091.45" y2="467.27" stroke="#000" stroke-width="2.3"/>
<line x1="1081.65" y1="467.27" x2="1091.45" y2="467.27" stroke="#000" stroke-width="2.3"/>
<line x1="1081.65" y1="513.87" x2="1087.25" y2="513.87" stroke="#000" stroke-width="1.7"/>
<line x1="1081.65" y1="560.47" x2="1087.25" y2="560.47" stroke="#000" stroke-width="1.7"/>
<line x1="1081.65" y1="607.08" x2="1087.25" y2="607.08" stroke="#000" stroke-width="1.7"/>
<line x1="1081.65" y1="653.68" x2="1087.25" y2="653.68" stroke="#000" stroke-width="1.7"/>
<line x1="1081.65" y1="700.28" x2="1091.45" y2="700.28" stroke="#000" stroke-width="2.3"/>
<line x1="1081.65" y1="700.28" x2="1091.45" y2="700.28" stroke="#000" stroke-width="2.3"/>
<line x1="1081.65" y1="746.88" x2="1087.25" y2="746.88" stroke="#000" stroke-width="1.7"/>
<line x1="1081.65" y1="793.48" x2="1087.25" y2="793.48" stroke="#000" stroke-width="1.7"/>
<line x1="1081.65" y1="840.09" x2="1087.25" y2="840.09" stroke="#000" stroke-width="1.7"/>
<line x1="1081.65" y1="886.69" x2="1087.25" y2="886.69" stroke="#000" stroke-width="1.7"/>
<line x1="1081.65" y1="933.29" x2="1091.45" y2="933.29" stroke="#000" stroke-width="2.3"/>
<line x1="1081.65" y1="933.29" x2="1091.45" y2="933.29" stroke="#000" stroke-width="2.3"/>
<line x1="1081.65" y1="979.89" x2="1087.25" y2="979.89" stroke="#000" stroke-width="1.7"/>
<line x1="1081.65" y1="1026.49" x2="1087.25" y2="1026.49" stroke="#000" stroke-width="1.7"/>
<line x1="1081.65" y1="1073.1" x2="1087.25" y2="1073.1" stroke="#000" stroke-width="1.7"/>
<line x1="1081.65" y1="1119.7" x2="1087.25" y2="1119.7" stroke="#000" stroke-width="1.7"/>
<line x1="1081.65" y1="1166.3" x2="1091.45" y2="1166.3" stroke="#000" stroke-width="2.3"/>
<line x1="1081.65" y1="1166.3" x2="1091.45" y2="1166.3" stroke="#000" stroke-width="2.3"/>
<line x1="1081.65" y1="1212.9" x2="1087.25" y2="1212.9" stroke="#000" stroke-width="1.7"/>
<line x1="1081.65" y1="1259.5" x2="1087.25" y2="1259.5" stroke="#000" stroke-width="1.7"/>
<line x1="1081.65" y1="1306.11" x2="1087.25" y2="1306.11" stroke="#000" stroke-width="1.7"/>
<line x1="1081.65" y1="1352.71" x2="1087.25" y2="1352.71" stroke="#000" stroke-width="1.7"/>
<line x1="1081.65" y1="1399.31" x2="1091.45" y2="1399.31" stroke="#000" stroke-width="2.3"/>
<line x1="1081.65" y1="1399.31" x2="1091.45" y2="1399.31" stroke="#000" stroke-width="2.3"/>
<line x1="1081.65" y1="1445.91" x2="1087.25" y2="1445.91" stroke="#000" stroke-width="1.7"/>
<line x1="1081.65" y1="1492.51" x2="1087.25" y2="1492.51" stroke="#000" stroke-width="1.7"/>
<line x1="1081.65" y1="1539.12" x2="1087.25" y2="1539.12" stroke="#000" stroke-width="1.7"/>
<line x1="1081.65" y1="1585.72" x2="1087.25" y2="1585.72" stroke="#000" stroke-width="1.7"/>
<line x1="1081.65" y1="1632.32" x2="1091.45" y2="1632.32" stroke="#000" stroke-width="2.3"/>
<line x1="1081.65" y1="1632.32" x2="1091.45" y2="1632.32" stroke="#000" stroke-width="2.3"/>
<line x1="1081.65" y1="1678.92" x2="1087.25" y2="1678.92" stroke="#000" stroke-width="1.7"/>
<line x1="1081.65" y1="1725.52" x2="1087.25" y2="1725.52" stroke="#000" stroke-width="1.7"/>
<line x1="1081.65" y1="1772.13" x2="1087.25" y2="1772.13" stroke="#000" stroke-width="1.7"/>
<line x1="1081.65" y1="1818.73" x2="1087.25" y2="1818.73" stroke="#000" stroke-width="1.7"/>
<line x1="1081.65" y1="1865.33" x2="1091.45" y2="1865.33" stroke="#000" stroke-width="2.3"/>
<line x1="1081.65" y1="1865.33" x2="1091.45" y2="1865.33" stroke="#000" stroke-width="2.3"/>
<line x1="1081.65" y1="1911.93" x2="1087.25" y2="1911.93" stroke="#000" stroke-width="1.7"/>
<line x1="1081.65" y1="1958.53" x2="1087.25" y2="1958.53" stroke="#000" stroke-width="1.7"/>
<line x1="1081.65" y1="2005.14" x2="1087.25" y2="2005.14" stroke="#000" stroke-width="1.7"/>
<line x1="1081.65" y1="2051.74" x2="1087.25" y2="2051.74" stroke="#000" stroke-width="1.7"/>
<line x1="1081.65" y1="2098.34" x2="1091.45" y2="2098.34" stroke="#000" stroke-width="2.3"/>
<line x1="1081.65" y1="2098.34" x2="1091.45" y2="2098.34" stroke="#000" stroke-width="2.3"/>
<line x1="1081.65" y1="2144.94" x2="1087.25" y2="2144.94" stroke="#000" stroke-width="1.7"/>
<line x1="1081.65" y1="2191.54" x2="1087.25" y2="2191.54" stroke="#000" stroke-width="1.7"/>
<line x1="1081.65" y1="2238.15" x2="1087.25" y2="2238.15" stroke="#000" stroke-width="1.7"/>
<line x1="1081.65" y1="2284.75" x2="1087.25" y2="2284.75" stroke="#000" stroke-width="1.7"/>
<line x1="1081.65" y1="2331.35" x2="1091.45" y2="2331.35" stroke="#000" stroke-width="2.3"/>
<line x1="1081.65" y1="2331.4" x2="1081.65" y2="2325.8" stroke="#000" stroke-width="1.7"/>
<line x1="1167.9" y1="2331.4" x2="1167.9" y2="2325.8" stroke="#000" stroke-width="1.7"/>
<line x1="1229.1" y1="2331.4" x2="1229.1" y2="2325.8" stroke="#000" stroke-width="1.7"/>
<line x1="1276.57" y1="2331.4" x2="1276.57" y2="2325.8" stroke="#000" stroke-width="1.7"/>
<line x1="1315.36" y1="2331.4" x2="1315.36" y2="2325.8" stroke="#000" stroke-width="1.7"/>
<line x1="1348.15" y1="2331.4" x2="1348.15" y2="2325.8" stroke="#000" stroke-width="1.7"/>
<line x1="1376.55" y1="2331.4" x2="1376.55" y2="2325.8" stroke="#000" stroke-width="1.7"/>
<line x1="1401.61" y1="2331.4" x2="1401.61" y2="2325.8" stroke="#000" stroke-width="1.7"/>
<line x1="1424.02" y1="2331.4" x2="1424.02" y2="2321.6" stroke="#000" stroke-width="2.3"/>
<line x1="1571.47" y1="2331.4" x2="1571.47" y2="2325.8" stroke="#000" stroke-width="1.7"/>
<line x1="1657.73" y1="2331.4" x2="1657.73" y2="2325.8" stroke="#000" stroke-width="1.7"/>
<line x1="1718.93" y1="2331.4" x2="1718.93" y2="2325.8" stroke="#000" stroke-width="1.7"/>
<line x1="1766.39" y1="2331.4" x2="1766.39" y2="2325.8" stroke="#000" stroke-width="1.7"/>
<line x1="1805.18" y1="2331.4" x2="1805.18" y2="2325.8" stroke="#000" stroke-width="1.7"/>
<line x1="1837.97" y1="2331.4" x2="1837.97" y2="2325.8" stroke="#000" stroke-width="1.7"/>
<line x1="1866.38" y1="2331.4" x2="1866.38" y2="2325.8" stroke="#000" stroke-width="1.7"/>
<line x1="1891.43" y1="2331.4" x2="1891.43" y2="2325.8" stroke="#000" stroke-width="1.7"/>
<line x1="1913.85" y1="2331.4" x2="1913.85" y2="2321.6" stroke="#000" stroke-width="2.3"/>
<g clip-path="url(#cr0)">
<line x1="1224.1" y1="117.2" x2="1462.9" y2="117.2" stroke="#a3bbf3" stroke-width="2.95"/>
<line x1="1375.2" y1="92" x2="1375.2" y2="142.4" stroke="#a3bbf3" stroke-width="2.95"/>
<line x1="1462.9" y1="139.2" x2="1610.2" y2="139.2" stroke="#a3bbf3" stroke-width="2.95"/>
<line x1="1549.2" y1="106" x2="1549.2" y2="172.4" stroke="#a3bbf3" stroke-width="2.95"/>
<line x1="1657.7" y1="147" x2="1766.4" y2="147" stroke="#a3bbf3" stroke-width="2.95"/>
<line x1="1718.95" y1="112.1" x2="1718.95" y2="181.9" stroke="#a3bbf3" stroke-width="2.95"/>
<line x1="1766.4" y1="175.4" x2="1913.7" y2="175.4" stroke="#a3bbf3" stroke-width="2.95"/>
<line x1="1852.7" y1="137.6" x2="1852.7" y2="213.2" stroke="#a3bbf3" stroke-width="2.95"/>
<line x1="1913.7" y1="183.6" x2="2000.1" y2="183.6" stroke="#a3bbf3" stroke-width="2.95"/>
<line x1="1961.2" y1="146.4" x2="1961.2" y2="220.8" stroke="#a3bbf3" stroke-width="2.95"/>
<line x1="1610.2" y1="56.3" x2="1657.7" y2="56.3" stroke="#2050ff" stroke-width="2.95"/>
<line x1="1635.3" y1="34.8" x2="1635.3" y2="77.8" stroke="#2050ff" stroke-width="2.95"/>
<path d="M1365.35 107.35L1385.05 127.05M1365.35 127.05L1385.05 107.35" stroke="#a3bbf3" stroke-width="2.81" fill="none"/>
<path d="M1539.35 129.35L1559.05 149.05M1539.35 149.05L1559.05 129.35" stroke="#a3bbf3" stroke-width="2.81" fill="none"/>
<path d="M1709.1 137.15L1728.8 156.85M1709.1 156.85L1728.8 137.15" stroke="#a3bbf3" stroke-width="2.81" fill="none"/>
<path d="M1842.85 165.55L1862.55 185.25M1842.85 185.25L1862.55 165.55" stroke="#a3bbf3" stroke-width="2.81" fill="none"/>
<path d="M1951.35 173.75L1971.05 193.45M1951.35 193.45L1971.05 173.75" stroke="#a3bbf3" stroke-width="2.81" fill="none"/>
<path d="M1624.05 45.05L1646.55 67.55M1624.05 67.55L1646.55 45.05" stroke="#2050ff" stroke-width="3.3" fill="none"/>
</g>
<g clip-path="url(#cr1)">
<line x1="1224.1" y1="352.2" x2="1462.9" y2="352.2" stroke="#f2a2a2" stroke-width="2.95"/>
<line x1="1375.2" y1="323.5" x2="1375.2" y2="380.9" stroke="#f2a2a2" stroke-width="2.95"/>
<line x1="1462.9" y1="344.2" x2="1610.2" y2="344.2" stroke="#f2a2a2" stroke-width="2.95"/>
<line x1="1549.2" y1="313.7" x2="1549.2" y2="374.7" stroke="#f2a2a2" stroke-width="2.95"/>
<line x1="1657.7" y1="386.2" x2="1766.4" y2="386.2" stroke="#f2a2a2" stroke-width="2.95"/>
<line x1="1718.95" y1="346.8" x2="1718.95" y2="425.6" stroke="#f2a2a2" stroke-width="2.95"/>
<line x1="1766.4" y1="407.5" x2="1913.7" y2="407.5" stroke="#f2a2a2" stroke-width="2.95"/>
<line x1="1852.7" y1="368.6" x2="1852.7" y2="446.4" stroke="#f2a2a2" stroke-width="2.95"/>
<line x1="1913.7" y1="422.5" x2="2000.1" y2="422.5" stroke="#f2a2a2" stroke-width="2.95"/>
<line x1="1961.2" y1="386.6" x2="1961.2" y2="458.4" stroke="#f2a2a2" stroke-width="2.95"/>
<line x1="1610.2" y1="312.8" x2="1657.7" y2="312.8" stroke="#ff2020" stroke-width="2.95"/>
<line x1="1635.3" y1="292.1" x2="1635.3" y2="333.5" stroke="#ff2020" stroke-width="2.95"/>
<path d="M1365.35 342.35L1385.05 362.05M1365.35 362.05L1385.05 342.35" stroke="#f2a2a2" stroke-width="2.81" fill="none"/>
<path d="M1539.35 334.35L1559.05 354.05M1539.35 354.05L1559.05 334.35" stroke="#f2a2a2" stroke-width="2.81" fill="none"/>
<path d="M1709.1 376.35L1728.8 396.05M1709.1 396.05L1728.8 376.35" stroke="#f2a2a2" stroke-width="2.81" fill="none"/>
<path d="M1842.85 397.65L1862.55 417.35M1842.85 417.35L1862.55 397.65" stroke="#f2a2a2" stroke-width="2.81" fill="none"/>
<path d="M1951.35 412.65L1971.05 432.35M1951.35 432.35L1971.05 412.65" stroke="#f2a2a2" stroke-width="2.81" fill="none"/>
<path d="M1624.05 301.55L1646.55 324.05M1624.05 324.05L1646.55 301.55" stroke="#ff2020" stroke-width="3.3" fill="none"/>
</g>
<g clip-path="url(#cr2)">
<line x1="1224.1" y1="625.5" x2="1462.9" y2="625.5" stroke="#a3bbf3" stroke-width="2.95"/>
<line x1="1375.2" y1="596.7" x2="1375.2" y2="654.3" stroke="#a3bbf3" stroke-width="2.95"/>
<line x1="1462.9" y1="637" x2="1610.2" y2="637" stroke="#a3bbf3" stroke-width="2.95"/>
<line x1="1549.2" y1="613" x2="1549.2" y2="661" stroke="#a3bbf3" stroke-width="2.95"/>
<line x1="1657.7" y1="637.5" x2="1766.4" y2="637.5" stroke="#a3bbf3" stroke-width="2.95"/>
<line x1="1718.95" y1="607" x2="1718.95" y2="668" stroke="#a3bbf3" stroke-width="2.95"/>
<line x1="1766.4" y1="646.4" x2="1913.7" y2="646.4" stroke="#a3bbf3" stroke-width="2.95"/>
<line x1="1852.7" y1="612.2" x2="1852.7" y2="680.6" stroke="#a3bbf3" stroke-width="2.95"/>
<line x1="1913.7" y1="662.1" x2="2000.1" y2="662.1" stroke="#a3bbf3" stroke-width="2.95"/>
<line x1="1961.2" y1="631.4" x2="1961.2" y2="692.8" stroke="#a3bbf3" stroke-width="2.95"/>
<line x1="1610.2" y1="540.1" x2="1657.7" y2="540.1" stroke="#2050ff" stroke-width="2.95"/>
<line x1="1635.3" y1="519.4" x2="1635.3" y2="560.8" stroke="#2050ff" stroke-width="2.95"/>
<path d="M1365.35 615.65L1385.05 635.35M1365.35 635.35L1385.05 615.65" stroke="#a3bbf3" stroke-width="2.81" fill="none"/>
<path d="M1539.35 627.15L1559.05 646.85M1539.35 646.85L1559.05 627.15" stroke="#a3bbf3" stroke-width="2.81" fill="none"/>
<path d="M1709.1 627.65L1728.8 647.35M1709.1 647.35L1728.8 627.65" stroke="#a3bbf3" stroke-width="2.81" fill="none"/>
<path d="M1842.85 636.55L1862.55 656.25M1842.85 656.25L1862.55 636.55" stroke="#a3bbf3" stroke-width="2.81" fill="none"/>
<path d="M1951.35 652.25L1971.05 671.95M1951.35 671.95L1971.05 652.25" stroke="#a3bbf3" stroke-width="2.81" fill="none"/>
<path d="M1624.05 528.85L1646.55 551.35M1624.05 551.35L1646.55 528.85" stroke="#2050ff" stroke-width="3.3" fill="none"/>
</g>
<g clip-path="url(#cr3)">
<line x1="1224.1" y1="832.5" x2="1462.9" y2="832.5" stroke="#f2a2a2" stroke-width="2.95"/>
<line x1="1375.2" y1="797.4" x2="1375.2" y2="867.6" stroke="#f2a2a2" stroke-width="2.95"/>
<line x1="1462.9" y1="850.8" x2="1610.2" y2="850.8" stroke="#f2a2a2" stroke-width="2.95"/>
<line x1="1549.2" y1="822" x2="1549.2" y2="879.6" stroke="#f2a2a2" stroke-width="2.95"/>
<line x1="1657.7" y1="875.6" x2="1766.4" y2="875.6" stroke="#f2a2a2" stroke-width="2.95"/>
<line x1="1718.95" y1="840.9" x2="1718.95" y2="910.3" stroke="#f2a2a2" stroke-width="2.95"/>
<line x1="1766.4" y1="866.3" x2="1913.7" y2="866.3" stroke="#f2a2a2" stroke-width="2.95"/>
<line x1="1852.7" y1="825.8" x2="1852.7" y2="906.8" stroke="#f2a2a2" stroke-width="2.95"/>
<line x1="1913.7" y1="885.2" x2="2000.1" y2="885.2" stroke="#f2a2a2" stroke-width="2.95"/>
<line x1="1961.2" y1="848.1" x2="1961.2" y2="922.3" stroke="#f2a2a2" stroke-width="2.95"/>
<line x1="1610.2" y1="770.5" x2="1657.7" y2="770.5" stroke="#ff2020" stroke-width="2.95"/>
<line x1="1635.3" y1="751.8" x2="1635.3" y2="789.2" stroke="#ff2020" stroke-width="2.95"/>
<path d="M1365.35 822.65L1385.05 842.35M1365.35 842.35L1385.05 822.65" stroke="#f2a2a2" stroke-width="2.81" fill="none"/>
<path d="M1539.35 840.95L1559.05 860.65M1539.35 860.65L1559.05 840.95" stroke="#f2a2a2" stroke-width="2.81" fill="none"/>
<path d="M1709.1 865.75L1728.8 885.45M1709.1 885.45L1728.8 865.75" stroke="#f2a2a2" stroke-width="2.81" fill="none"/>
<path d="M1842.85 856.45L1862.55 876.15M1842.85 876.15L1862.55 856.45" stroke="#f2a2a2" stroke-width="2.81" fill="none"/>
<path d="M1951.35 875.35L1971.05 895.05M1951.35 895.05L1971.05 875.35" stroke="#f2a2a2" stroke-width="2.81" fill="none"/>
<path d="M1624.05 759.25L1646.55 781.75M1624.05 781.75L1646.55 759.25" stroke="#ff2020" stroke-width="3.3" fill="none"/>
</g>
<g clip-path="url(#cr4)">
<line x1="1224.1" y1="1054.7" x2="1462.9" y2="1054.7" stroke="#a3bbf3" stroke-width="2.95"/>
<line x1="1375.2" y1="1027.1" x2="1375.2" y2="1082.3" stroke="#a3bbf3" stroke-width="2.95"/>
<line x1="1462.9" y1="1056" x2="1610.2" y2="1056" stroke="#a3bbf3" stroke-width="2.95"/>
<line x1="1549.2" y1="1029.3" x2="1549.2" y2="1082.7" stroke="#a3bbf3" stroke-width="2.95"/>
<line x1="1657.7" y1="1088.4" x2="1766.4" y2="1088.4" stroke="#a3bbf3" stroke-width="2.95"/>
<line x1="1718.95" y1="1062.1" x2="1718.95" y2="1114.7" stroke="#a3bbf3" stroke-width="2.95"/>
<line x1="1766.4" y1="1105.4" x2="1913.7" y2="1105.4" stroke="#a3bbf3" stroke-width="2.95"/>
<line x1="1852.7" y1="1072.8" x2="1852.7" y2="1138" stroke="#a3bbf3" stroke-width="2.95"/>
<line x1="1913.7" y1="1124" x2="2000.1" y2="1124" stroke="#a3bbf3" stroke-width="2.95"/>
<line x1="1961.2" y1="1091.2" x2="1961.2" y2="1156.8" stroke="#a3bbf3" stroke-width="2.95"/>
<line x1="1610.2" y1="998.1" x2="1657.7" y2="998.1" stroke="#2050ff" stroke-width="2.95"/>
<line x1="1635.3" y1="982.7" x2="1635.3" y2="1013.5" stroke="#2050ff" stroke-width="2.95"/>
<path d="M1365.35 1044.85L1385.05 1064.55M1365.35 1064.55L1385.05 1044.85" stroke="#a3bbf3" stroke-width="2.81" fill="none"/>
<path d="M1539.35 1046.15L1559.05 1065.85M1539.35 1065.85L1559.05 1046.15" stroke="#a3bbf3" stroke-width="2.81" fill="none"/>
<path d="M1709.1 1078.55L1728.8 1098.25M1709.1 1098.25L1728.8 1078.55" stroke="#a3bbf3" stroke-width="2.81" fill="none"/>
<path d="M1842.85 1095.55L1862.55 1115.25M1842.85 1115.25L1862.55 1095.55" stroke="#a3bbf3" stroke-width="2.81" fill="none"/>
<path d="M1951.35 1114.15L1971.05 1133.85M1951.35 1133.85L1971.05 1114.15" stroke="#a3bbf3" stroke-width="2.81" fill="none"/>
<path d="M1624.05 986.85L1646.55 1009.35M1624.05 1009.35L1646.55 986.85" stroke="#2050ff" stroke-width="3.3" fill="none"/>
</g>
<g clip-path="url(#cr5)">
<line x1="1224.1" y1="1340.4" x2="1462.9" y2="1340.4" stroke="#f2a2a2" stroke-width="2.95"/>
<line x1="1375.2" y1="1317.9" x2="1375.2" y2="1362.9" stroke="#f2a2a2" stroke-width="2.95"/>
<line x1="1462.9" y1="1320.2" x2="1610.2" y2="1320.2" stroke="#f2a2a2" stroke-width="2.95"/>
<line x1="1549.2" y1="1290.8" x2="1549.2" y2="1349.6" stroke="#f2a2a2" stroke-width="2.95"/>
<line x1="1657.7" y1="1306.4" x2="1766.4" y2="1306.4" stroke="#f2a2a2" stroke-width="2.95"/>
<line x1="1718.95" y1="1271.9" x2="1718.95" y2="1340.9" stroke="#f2a2a2" stroke-width="2.95"/>
<line x1="1766.4" y1="1321.2" x2="1913.7" y2="1321.2" stroke="#f2a2a2" stroke-width="2.95"/>
<line x1="1852.7" y1="1281.2" x2="1852.7" y2="1361.2" stroke="#f2a2a2" stroke-width="2.95"/>
<line x1="1913.7" y1="1344.4" x2="2000.1" y2="1344.4" stroke="#f2a2a2" stroke-width="2.95"/>
<line x1="1961.2" y1="1304.9" x2="1961.2" y2="1383.9" stroke="#f2a2a2" stroke-width="2.95"/>
<line x1="1610.2" y1="1220.5" x2="1657.7" y2="1220.5" stroke="#ff2020" stroke-width="2.95"/>
<line x1="1635.3" y1="1204.8" x2="1635.3" y2="1236.2" stroke="#ff2020" stroke-width="2.95"/>
<path d="M1365.35 1330.55L1385.05 1350.25M1365.35 1350.25L1385.05 1330.55" stroke="#f2a2a2" stroke-width="2.81" fill="none"/>
<path d="M1539.35 1310.35L1559.05 1330.05M1539.35 1330.05L1559.05 1310.35" stroke="#f2a2a2" stroke-width="2.81" fill="none"/>
<path d="M1709.1 1296.55L1728.8 1316.25M1709.1 1316.25L1728.8 1296.55" stroke="#f2a2a2" stroke-width="2.81" fill="none"/>
<path d="M1842.85 1311.35L1862.55 1331.05M1842.85 1331.05L1862.55 1311.35" stroke="#f2a2a2" stroke-width="2.81" fill="none"/>
<path d="M1951.35 1334.55L1971.05 1354.25M1951.35 1354.25L1971.05 1334.55" stroke="#f2a2a2" stroke-width="2.81" fill="none"/>
<path d="M1624.05 1209.25L1646.55 1231.75M1624.05 1231.75L1646.55 1209.25" stroke="#ff2020" stroke-width="3.3" fill="none"/>
</g>
<g clip-path="url(#cr6)">
<line x1="1224.1" y1="1475.9" x2="1462.9" y2="1475.9" stroke="#a3bbf3" stroke-width="2.95"/>
<line x1="1375.2" y1="1457.2" x2="1375.2" y2="1494.6" stroke="#a3bbf3" stroke-width="2.95"/>
<line x1="1462.9" y1="1536.5" x2="1610.2" y2="1536.5" stroke="#a3bbf3" stroke-width="2.95"/>
<line x1="1549.2" y1="1513.5" x2="1549.2" y2="1559.5" stroke="#a3bbf3" stroke-width="2.95"/>
<line x1="1657.7" y1="1541.6" x2="1766.4" y2="1541.6" stroke="#a3bbf3" stroke-width="2.95"/>
<line x1="1718.95" y1="1512.9" x2="1718.95" y2="1570.3" stroke="#a3bbf3" stroke-width="2.95"/>
<line x1="1766.4" y1="1579.5" x2="1913.7" y2="1579.5" stroke="#a3bbf3" stroke-width="2.95"/>
<line x1="1852.7" y1="1545.4" x2="1852.7" y2="1613.6" stroke="#a3bbf3" stroke-width="2.95"/>
<line x1="1913.7" y1="1588.8" x2="2000.1" y2="1588.8" stroke="#a3bbf3" stroke-width="2.95"/>
<line x1="1961.2" y1="1555.5" x2="1961.2" y2="1622.1" stroke="#a3bbf3" stroke-width="2.95"/>
<line x1="1610.2" y1="1481.3" x2="1657.7" y2="1481.3" stroke="#2050ff" stroke-width="2.95"/>
<line x1="1635.3" y1="1463.8" x2="1635.3" y2="1498.8" stroke="#2050ff" stroke-width="2.95"/>
<path d="M1365.35 1466.05L1385.05 1485.75M1365.35 1485.75L1385.05 1466.05" stroke="#a3bbf3" stroke-width="2.81" fill="none"/>
<path d="M1539.35 1526.65L1559.05 1546.35M1539.35 1546.35L1559.05 1526.65" stroke="#a3bbf3" stroke-width="2.81" fill="none"/>
<path d="M1709.1 1531.75L1728.8 1551.45M1709.1 1551.45L1728.8 1531.75" stroke="#a3bbf3" stroke-width="2.81" fill="none"/>
<path d="M1842.85 1569.65L1862.55 1589.35M1842.85 1589.35L1862.55 1569.65" stroke="#a3bbf3" stroke-width="2.81" fill="none"/>
<path d="M1951.35 1578.95L1971.05 1598.65M1951.35 1598.65L1971.05 1578.95" stroke="#a3bbf3" stroke-width="2.81" fill="none"/>
<path d="M1624.05 1470.05L1646.55 1492.55M1624.05 1492.55L1646.55 1470.05" stroke="#2050ff" stroke-width="3.3" fill="none"/>
</g>
<g clip-path="url(#cr7)">
<line x1="1224.1" y1="1745.3" x2="1462.9" y2="1745.3" stroke="#f2a2a2" stroke-width="2.95"/>
<line x1="1375.2" y1="1716.2" x2="1375.2" y2="1774.4" stroke="#f2a2a2" stroke-width="2.95"/>
<line x1="1462.9" y1="1767.7" x2="1610.2" y2="1767.7" stroke="#f2a2a2" stroke-width="2.95"/>
<line x1="1549.2" y1="1735.9" x2="1549.2" y2="1799.5" stroke="#f2a2a2" stroke-width="2.95"/>
<line x1="1657.7" y1="1798.3" x2="1766.4" y2="1798.3" stroke="#f2a2a2" stroke-width="2.95"/>
<line x1="1718.95" y1="1768.5" x2="1718.95" y2="1828.1" stroke="#f2a2a2" stroke-width="2.95"/>
<line x1="1766.4" y1="1792.4" x2="1913.7" y2="1792.4" stroke="#f2a2a2" stroke-width="2.95"/>
<line x1="1852.7" y1="1756" x2="1852.7" y2="1828.8" stroke="#f2a2a2" stroke-width="2.95"/>
<line x1="1913.7" y1="1816" x2="2000.1" y2="1816" stroke="#f2a2a2" stroke-width="2.95"/>
<line x1="1961.2" y1="1781" x2="1961.2" y2="1851" stroke="#f2a2a2" stroke-width="2.95"/>
<line x1="1610.2" y1="1695" x2="1657.7" y2="1695" stroke="#ff2020" stroke-width="2.95"/>
<line x1="1635.3" y1="1679.7" x2="1635.3" y2="1710.3" stroke="#ff2020" stroke-width="2.95"/>
<path d="M1365.35 1735.45L1385.05 1755.15M1365.35 1755.15L1385.05 1735.45" stroke="#f2a2a2" stroke-width="2.81" fill="none"/>
<path d="M1539.35 1757.85L1559.05 1777.55M1539.35 1777.55L1559.05 1757.85" stroke="#f2a2a2" stroke-width="2.81" fill="none"/>
<path d="M1709.1 1788.45L1728.8 1808.15M1709.1 1808.15L1728.8 1788.45" stroke="#f2a2a2" stroke-width="2.81" fill="none"/>
<path d="M1842.85 1782.55L1862.55 1802.25M1842.85 1802.25L1862.55 1782.55" stroke="#f2a2a2" stroke-width="2.81" fill="none"/>
<path d="M1951.35 1806.15L1971.05 1825.85M1951.35 1825.85L1971.05 1806.15" stroke="#f2a2a2" stroke-width="2.81" fill="none"/>
<path d="M1624.05 1683.75L1646.55 1706.25M1624.05 1706.25L1646.55 1683.75" stroke="#ff2020" stroke-width="3.3" fill="none"/>
</g>
<g clip-path="url(#cr8)">
<line x1="1224.1" y1="1939.2" x2="1462.9" y2="1939.2" stroke="#a3bbf3" stroke-width="2.95"/>
<line x1="1375.2" y1="1915.9" x2="1375.2" y2="1962.5" stroke="#a3bbf3" stroke-width="2.95"/>
<line x1="1462.9" y1="1981.1" x2="1610.2" y2="1981.1" stroke="#a3bbf3" stroke-width="2.95"/>
<line x1="1549.2" y1="1954.1" x2="1549.2" y2="2008.1" stroke="#a3bbf3" stroke-width="2.95"/>
<line x1="1657.7" y1="2023.3" x2="1766.4" y2="2023.3" stroke="#a3bbf3" stroke-width="2.95"/>
<line x1="1718.95" y1="1993.5" x2="1718.95" y2="2053.1" stroke="#a3bbf3" stroke-width="2.95"/>
<line x1="1766.4" y1="2047.6" x2="1913.7" y2="2047.6" stroke="#a3bbf3" stroke-width="2.95"/>
<line x1="1852.7" y1="2015.1" x2="1852.7" y2="2080.1" stroke="#a3bbf3" stroke-width="2.95"/>
<line x1="1913.7" y1="2046.4" x2="2000.1" y2="2046.4" stroke="#a3bbf3" stroke-width="2.95"/>
<line x1="1961.2" y1="2010.3" x2="1961.2" y2="2082.5" stroke="#a3bbf3" stroke-width="2.95"/>
<line x1="1610.2" y1="1970" x2="1657.7" y2="1970" stroke="#2050ff" stroke-width="2.95"/>
<line x1="1635.3" y1="1949.4" x2="1635.3" y2="1990.6" stroke="#2050ff" stroke-width="2.95"/>
<path d="M1365.35 1929.35L1385.05 1949.05M1365.35 1949.05L1385.05 1929.35" stroke="#a3bbf3" stroke-width="2.81" fill="none"/>
<path d="M1539.35 1971.25L1559.05 1990.95M1539.35 1990.95L1559.05 1971.25" stroke="#a3bbf3" stroke-width="2.81" fill="none"/>
<path d="M1709.1 2013.45L1728.8 2033.15M1709.1 2033.15L1728.8 2013.45" stroke="#a3bbf3" stroke-width="2.81" fill="none"/>
<path d="M1842.85 2037.75L1862.55 2057.45M1842.85 2057.45L1862.55 2037.75" stroke="#a3bbf3" stroke-width="2.81" fill="none"/>
<path d="M1951.35 2036.55L1971.05 2056.25M1951.35 2056.25L1971.05 2036.55" stroke="#a3bbf3" stroke-width="2.81" fill="none"/>
<path d="M1624.05 1958.75L1646.55 1981.25M1624.05 1981.25L1646.55 1958.75" stroke="#2050ff" stroke-width="3.3" fill="none"/>
</g>
<g clip-path="url(#cr9)">
<line x1="1224.1" y1="2239.2" x2="1462.9" y2="2239.2" stroke="#f2a2a2" stroke-width="2.95"/>
<line x1="1375.2" y1="2212.8" x2="1375.2" y2="2265.6" stroke="#f2a2a2" stroke-width="2.95"/>
<line x1="1462.9" y1="2281.6" x2="1610.2" y2="2281.6" stroke="#f2a2a2" stroke-width="2.95"/>
<line x1="1549.2" y1="2262" x2="1549.2" y2="2301.2" stroke="#f2a2a2" stroke-width="2.95"/>
<line x1="1657.7" y1="2263.7" x2="1766.4" y2="2263.7" stroke="#f2a2a2" stroke-width="2.95"/>
<line x1="1718.95" y1="2229.3" x2="1718.95" y2="2298.1" stroke="#f2a2a2" stroke-width="2.95"/>
<line x1="1766.4" y1="2264.9" x2="1913.7" y2="2264.9" stroke="#f2a2a2" stroke-width="2.95"/>
<line x1="1852.7" y1="2227.9" x2="1852.7" y2="2301.9" stroke="#f2a2a2" stroke-width="2.95"/>
<line x1="1913.7" y1="2287.5" x2="2000.1" y2="2287.5" stroke="#f2a2a2" stroke-width="2.95"/>
<line x1="1961.2" y1="2255" x2="1961.2" y2="2320" stroke="#f2a2a2" stroke-width="2.95"/>
<line x1="1610.2" y1="2244" x2="1657.7" y2="2244" stroke="#ff2020" stroke-width="2.95"/>
<line x1="1635.3" y1="2222.9" x2="1635.3" y2="2265.1" stroke="#ff2020" stroke-width="2.95"/>
<path d="M1365.35 2229.35L1385.05 2249.05M1365.35 2249.05L1385.05 2229.35" stroke="#f2a2a2" stroke-width="2.81" fill="none"/>
<path d="M1539.35 2271.75L1559.05 2291.45M1539.35 2291.45L1559.05 2271.75" stroke="#f2a2a2" stroke-width="2.81" fill="none"/>
<path d="M1709.1 2253.85L1728.8 2273.55M1709.1 2273.55L1728.8 2253.85" stroke="#f2a2a2" stroke-width="2.81" fill="none"/>
<path d="M1842.85 2255.05L1862.55 2274.75M1842.85 2274.75L1862.55 2255.05" stroke="#f2a2a2" stroke-width="2.81" fill="none"/>
<path d="M1951.35 2277.65L1971.05 2297.35M1951.35 2297.35L1971.05 2277.65" stroke="#f2a2a2" stroke-width="2.81" fill="none"/>
<path d="M1624.05 2232.75L1646.55 2255.25M1624.05 2255.25L1646.55 2232.75" stroke="#ff2020" stroke-width="3.3" fill="none"/>
</g>
<text y="2374.6" font-size="45" fill="#000"><tspan x="1370.45">10</tspan><tspan x="1428.14" dy="-16.34" font-size="31.5">−4</tspan></text>
<text y="2374.6" font-size="45" fill="#000"><tspan x="1860.27">10</tspan><tspan x="1917.96" dy="-16.34" font-size="31.5">−3</tspan></text>
<rect x="1081.65" y="1.25" width="918.4" height="233.01" fill="none" stroke="#000" stroke-width="2.3"/>
<rect x="1081.65" y="234.26" width="918.4" height="233.01" fill="none" stroke="#000" stroke-width="2.3"/>
<rect x="1081.65" y="467.27" width="918.4" height="233.01" fill="none" stroke="#000" stroke-width="2.3"/>
<rect x="1081.65" y="700.28" width="918.4" height="233.01" fill="none" stroke="#000" stroke-width="2.3"/>
<rect x="1081.65" y="933.29" width="918.4" height="233.01" fill="none" stroke="#000" stroke-width="2.3"/>
<rect x="1081.65" y="1166.3" width="918.4" height="233.01" fill="none" stroke="#000" stroke-width="2.3"/>
<rect x="1081.65" y="1399.31" width="918.4" height="233.01" fill="none" stroke="#000" stroke-width="2.3"/>
<rect x="1081.65" y="1632.32" width="918.4" height="233.01" fill="none" stroke="#000" stroke-width="2.3"/>
<rect x="1081.65" y="1865.33" width="918.4" height="233.01" fill="none" stroke="#000" stroke-width="2.3"/>
<rect x="1081.65" y="2098.34" width="918.4" height="233.01" fill="none" stroke="#000" stroke-width="2.3"/>
<text x="1091.25" y="36.25" font-size="28.4" font-weight="bold" fill="#2050ff">Obs-1</text>
<text y="69.35" font-size="28.15" fill="#2050ff"><tspan x="1090.35" font-weight="bold">0.76</tspan><tspan x="1165.29" font-weight="bold">±</tspan><tspan x="1194.36" font-weight="bold">0.09</tspan></text>
<text x="1091.25" y="269.26" font-size="28.4" font-weight="bold" fill="#ff2020">Obs-2</text>
<text y="302.36" font-size="28.15" fill="#ff2020"><tspan x="1090.35" font-weight="bold">0.66</tspan><tspan x="1165.29" font-weight="bold">±</tspan><tspan x="1194.36" font-weight="bold">0.09</tspan></text>
<text x="1091.25" y="502.27" font-size="28.4" font-weight="bold" fill="#2050ff">Obs-3</text>
<text y="535.37" font-size="28.15" fill="#2050ff"><tspan x="1090.35" font-weight="bold">0.69</tspan><tspan x="1165.29" font-weight="bold">±</tspan><tspan x="1194.36" font-weight="bold">0.09</tspan></text>
<text x="1091.25" y="735.28" font-size="28.4" font-weight="bold" fill="#ff2020">Obs-4</text>
<text y="768.38" font-size="28.15" fill="#ff2020"><tspan x="1090.35" font-weight="bold">0.70</tspan><tspan x="1165.29" font-weight="bold">±</tspan><tspan x="1194.36" font-weight="bold">0.08</tspan></text>
<text x="1091.25" y="968.29" font-size="28.4" font-weight="bold" fill="#2050ff">Obs-5</text>
<text y="1001.39" font-size="28.15" fill="#2050ff"><tspan x="1090.35" font-weight="bold">0.72</tspan><tspan x="1165.29" font-weight="bold">±</tspan><tspan x="1194.36" font-weight="bold">0.07</tspan></text>
<text x="1091.25" y="1201.3" font-size="28.4" font-weight="bold" fill="#ff2020">Obs-6</text>
<text y="1234.4" font-size="28.15" fill="#ff2020"><tspan x="1090.35" font-weight="bold">0.77</tspan><tspan x="1165.29" font-weight="bold">±</tspan><tspan x="1194.36" font-weight="bold">0.07</tspan></text>
<text x="1091.25" y="1434.31" font-size="28.4" font-weight="bold" fill="#2050ff">Obs-7</text>
<text y="1467.41" font-size="28.15" fill="#2050ff"><tspan x="1090.35" font-weight="bold">0.65</tspan><tspan x="1165.29" font-weight="bold">±</tspan><tspan x="1194.36" font-weight="bold">0.08</tspan></text>
<text x="1091.25" y="1667.32" font-size="28.4" font-weight="bold" fill="#ff2020">Obs-8</text>
<text y="1700.42" font-size="28.15" fill="#ff2020"><tspan x="1090.35" font-weight="bold">0.73</tspan><tspan x="1165.29" font-weight="bold">±</tspan><tspan x="1194.36" font-weight="bold">0.07</tspan></text>
<text x="1091.25" y="1900.33" font-size="28.4" font-weight="bold" fill="#2050ff">Obs-9</text>
<text y="1933.43" font-size="28.15" fill="#2050ff"><tspan x="1090.35" font-weight="bold">0.55</tspan><tspan x="1165.29" font-weight="bold">±</tspan><tspan x="1194.36" font-weight="bold">0.09</tspan></text>
<text x="1091.25" y="2133.34" font-size="28.4" font-weight="bold" fill="#ff2020">Obs-10</text>
<text y="2166.44" font-size="28.15" fill="#ff2020"><tspan x="1090.35" font-weight="bold">0.37</tspan><tspan x="1165.29" font-weight="bold">±</tspan><tspan x="1194.36" font-weight="bold">0.09</tspan></text>
<text x="1540.85" y="2431.4" font-size="45" font-weight="bold" text-anchor="middle" fill="#000">Frequency (Hz)</text>
<text transform="translate(1048.0 1166.3) rotate(-90)" font-size="45" font-weight="bold" fill="#000"><tspan x="-169.88">Coherence</tspan><tspan x="113.33">γ</tspan><tspan x="144.41" dy="-17.23" font-size="31.5">2</tspan></text>
</g>
</svg>
</body></html>
